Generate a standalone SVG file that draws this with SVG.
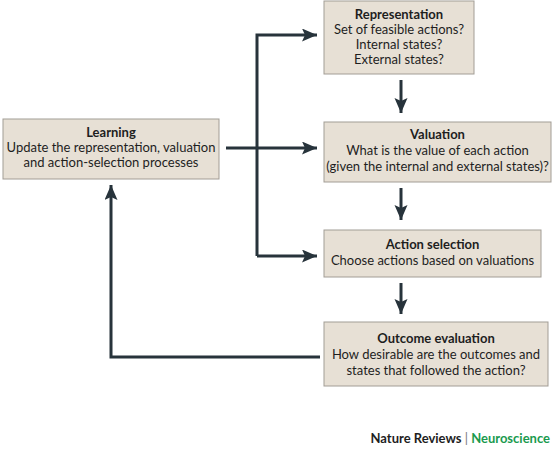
<svg xmlns="http://www.w3.org/2000/svg" width="555" height="450" viewBox="0 0 555 450">
<defs>
<style>
.box{fill:#e7e0d5;stroke:#a29d95;stroke-width:1}
.t{font-family:Lato,"Open Sans",sans-serif;font-size:13px;fill:#1e1e1e;text-anchor:middle}
.b{font-weight:bold}
.c{fill:none;stroke:#27333b;stroke-width:3}
</style>
<marker id="ah" markerUnits="userSpaceOnUse" markerWidth="16" markerHeight="14" refX="15" refY="6.5" orient="auto">
<path d="M0,0 L15,6.5 L0,13 L3,6.5 Z" fill="#27333b"/>
</marker>
</defs>
<rect width="555" height="450" fill="#ffffff"/>
<g id="connectors">
<path class="c" d="M226,148 H317" marker-end="url(#ah)"/>
<path class="c" d="M257,256 V35 H317" marker-end="url(#ah)"/>
<path class="c" d="M257,256 H317" marker-end="url(#ah)"/>
<path class="c" d="M401,80 V113" marker-end="url(#ah)"/>
<path class="c" d="M401,188 V220" marker-end="url(#ah)"/>
<path class="c" d="M401,283 V314" marker-end="url(#ah)"/>
<path class="c" d="M320,357 H111 V185" marker-end="url(#ah)"/>
</g>
<g id="learning">
<rect class="box" x="3" y="119" width="216" height="60"/>
<text class="t b" x="111" y="137">Learning</text>
<text class="t" x="111" y="152">Update the representation, valuation</text>
<text class="t" x="111" y="167">and action-selection processes</text>
</g>
<g id="representation">
<rect class="box" x="324" y="1" width="150" height="73"/>
<text class="t b" x="399" y="19">Representation</text>
<text class="t" x="399" y="34">Set of feasible actions?</text>
<text class="t" x="399" y="49">Internal states?</text>
<text class="t" x="399" y="64">External states?</text>
</g>
<g id="valuation">
<rect class="box" x="324" y="122" width="227" height="60"/>
<text class="t b" x="437.5" y="139">Valuation</text>
<text class="t" x="437.5" y="155">What is the value of each action</text>
<text class="t" x="437.5" y="171">(given the internal and external states)?</text>
</g>
<g id="action-selection">
<rect class="box" x="324" y="230" width="217" height="47"/>
<text class="t b" x="432.5" y="249">Action selection</text>
<text class="t" x="432.5" y="265">Choose actions based on valuations</text>
</g>
<g id="outcome-evaluation">
<rect class="box" x="324" y="322" width="224" height="64"/>
<text class="t b" x="436" y="343">Outcome evaluation</text>
<text class="t" x="436" y="359">How desirable are the outcomes and</text>
<text class="t" x="436" y="375">states that followed the action?</text>
</g>
<text x="550" y="443" font-family="Lato,'Open Sans',sans-serif" font-size="13" font-weight="bold" text-anchor="end"><tspan fill="#1e1e1e">Nature Reviews </tspan><tspan fill="#777777" font-weight="normal">|</tspan><tspan fill="#1a9a4e"> Neuroscience</tspan></text>
</svg>
